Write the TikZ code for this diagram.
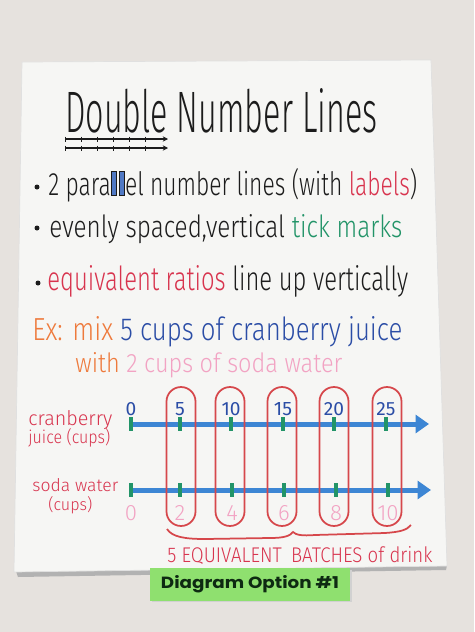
\documentclass[tikz,border=0pt]{standalone}
\usepackage{fontspec}
\setmainfont{Fira Sans}[UprightFont={* Light}]
\newfontfamily\numfont{Fira Sans}
\newfontfamily\notefont{Poppins}
\usepackage{graphicx}
\usetikzlibrary{positioning}
\usetikzlibrary{arrows.meta}
\usetikzlibrary{calc}
\definecolor{wall}{HTML}{E6E2DE}
\definecolor{paper}{HTML}{F6F6F4}
\definecolor{ink}{HTML}{1C1C1C}
\definecolor{hred}{HTML}{D8344E}
\definecolor{ovred}{HTML}{D6474B}
\definecolor{tgreen}{HTML}{229468}
\definecolor{orng}{HTML}{EE7A3C}
\definecolor{cblue}{HTML}{2B4DA6}
\definecolor{pinkc}{HTML}{F2A3C3}
\definecolor{lineblue}{HTML}{3D86D4}
\definecolor{hlblue}{HTML}{5079C4}
\definecolor{sticky}{HTML}{8FE06F}
\definecolor{stickyink}{HTML}{0E2A12}
\newlength\pxu
\setlength\pxu{0.02cm}
\newcommand\fitto[3]{\resizebox{#1\pxu}{#2\pxu}{#3}}
\newcommand\fith[2]{\resizebox{!}{#1\pxu}{#2}}
\newcommand\hlbar{{\setlength\fboxsep{0pt}\setlength\fboxrule{0.35pt}\fcolorbox{ink}{hlblue}{\rule{0.2em}{0pt}\rule{0pt}{0.72em}}}}
\tikzstyle{handtext}=[anchor=base west,inner sep=0pt,text=ink]
\tikzstyle{bullet}=[circle,fill=ink,inner sep=0pt,minimum size=0.1cm]
\tikzstyle{numline}=[lineblue,line width=0.1cm,-{Triangle[length=0.27cm,width=0.36cm]}]
\tikzstyle{tickmark}=[rectangle,fill=tgreen,inner sep=0pt,minimum width=0.08cm,minimum height=0.28cm]
\tikzstyle{batch}=[draw=ovred,line width=0.035cm,rounded corners=0.29cm,minimum width=0.58cm,minimum height=2.78cm,inner sep=0pt]
\tikzstyle{toplabel}=[anchor=base,inner sep=0pt,text=cblue,font=\numfont]
\tikzstyle{botlabel}=[anchor=base,inner sep=0pt,text=pinkc]
\tikzstyle{sticky}=[rectangle,fill=sticky,minimum width=4cm,minimum height=0.66cm,inner sep=0pt,text=stickyink]

\begin{document}
\begin{tikzpicture}[x=0.02cm,y=-0.02cm]
\useasboundingbox (0,0) rectangle (474,632);

%wall and paper
    \fill[wall] (0,0) rectangle (474,632);
    \fill[black!30] (16,571) -- (447,565) -- (446,570) -- (18,577) -- cycle;
    \filldraw[fill=paper,draw=black!12] (22,62) -- (431,60) -- (447,566) -- (14,572) -- cycle;

%title
    \node[handtext] (title) at (65,132) {\fitto{312}{44}{Double Number Lines}};
    \foreach \y/\name in {139/ua, 148/ub} {
        \coordinate (\name s) at (65,\y);
        \coordinate (\name e) at (168,\y);
        \draw[ink, line width=0.6pt, -{Stealth[length=3pt,width=3pt]}] (\name s) -- (\name e);
        \foreach \x in {65,81,97,113,129,145}
            \draw[ink, line width=0.5pt] (\x,\y-2.5) -- (\x,\y+2.5);
    }

%rules
    \foreach \pos/\name in {{(37,187)/d1}, {(37,228)/d2}, {(38,283)/d3}}
        \node[bullet] (\name) at \pos {};
    \node[handtext] (r1) at (48,195) {\fitto{369}{27}{2 para\hlbar\kern0.08em\hlbar el number lines (with \textcolor{hred}{labels})}};
    \node[handtext] (r2) at (49,237) {\fitto{353}{23}{evenly spaced,vertical \textcolor{tgreen}{tick marks}}};
    \node[handtext] (r3) at (47,290) {\fitto{361}{25}{\textcolor{hred}{equivalent ratios} line up vertically}};

%example
    \node[handtext] (ex1) at (32,340) {\fitto{370}{24}{\textcolor{orng}{Ex: mix} \textcolor{cblue}{5 cups of cranberry juice}}};
    \node[handtext] (ex2) at (75,372) {\fitto{267}{20}{\textcolor{orng}{with} \textcolor{pinkc}{2 cups of soda water}}};

%labels of the lines
    \node[handtext,text=hred] (cj1) at (28,425) {\fitto{84}{15}{cranberry}};
    \node[handtext,text=hred] (cj2) at (28,443) {\fitto{82}{15}{juice (cups)}};
    \node[handtext,text=hred] (sw1) at (32,491) {\fitto{86}{13}{soda water}};
    \node[handtext,text=hred] (sw2) at (48,510) {\fitto{44}{14}{(cups)}};

%number lines
    \coordinate (tstart) at (131,424);
    \coordinate (tend) at (429,424);
    \coordinate (bstart) at (131,490);
    \coordinate (bend) at (431,490);
    \draw[numline] (tstart) -- (tend);
    \draw[numline] (bstart) -- (bend);

    \foreach \x/\num [count=\i] in {131/0, 180/5, 231/10, 283/15, 334/20, 386/25} {
        \node[tickmark] (tt\i) at (\x,424) {};
        \node[toplabel] (tl\i) at (\x,415) {\fith{13}{\num}};
    }
    \foreach \x/\num [count=\i] in {131/0, 180/2, 232/4, 284/6, 336/8, 388/10} {
        \node[tickmark] (bt\i) at (\x,490) {};
        \node[botlabel] (bl\i) at (\x,520) {\fith{15}{\num}};
    }

%batches
    \foreach \x [count=\i] in {181,230,282,334,387}
        \node[batch] (batch\i) at (\x,456.5) {};
    \draw[ovred, line width=0.035cm] (167,529) .. controls (172,537) and (185,539) .. (205,539) -- (270,538)
        .. controls (284,538) and (290,536) .. (293,532) .. controls (296,535) and (302,536) .. (315,535)
        -- (385,533) .. controls (400,532) and (407,530) .. (411,525);
    \node[handtext,text=hred] (batches) at (167,562) {\fitto{265}{16}{5 EQUIVALENT\enspace BATCHES of drink}};

%sticky note
    \fill[black!18] (152,570) rectangle (352,602);
    \node[sticky] (opt) at (250,584) {\notefont\bfseries\fitto{178}{13}{Diagram Option \#1}};

\end{tikzpicture}
\end{document}
